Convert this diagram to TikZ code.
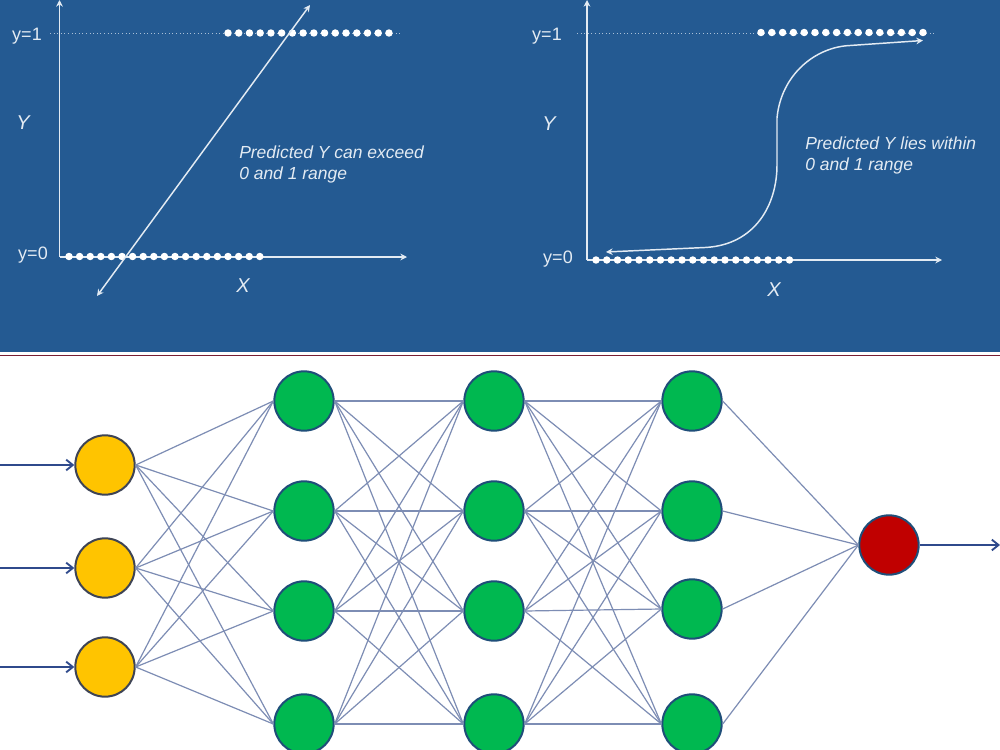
\documentclass[tikz,border=0pt]{standalone}
\usepackage{fontspec}
\setmainfont{Liberation Sans}
\usetikzlibrary{arrows.meta}
\definecolor{panel}{HTML}{245A92}
\definecolor{chalk}{HTML}{E3EBF3}
\definecolor{edgeblue}{HTML}{7D8DB4}
\definecolor{inblue}{HTML}{2F4A8C}
\definecolor{ringdark}{HTML}{1F4E79}
\definecolor{ringgrey}{HTML}{3E4455}
\definecolor{inyellow}{HTML}{FFC400}
\definecolor{hidgreen}{HTML}{00B850}
\definecolor{outred}{HTML}{C00000}
\definecolor{rulered}{HTML}{781E32}
\tikzset{
  axisline/.style={draw=chalk,line width=1.1pt,-{Stealth[length=5pt,width=5pt]}},
  guide/.style={draw=chalk!70!panel,line width=0.7pt,dotted},
  fitline/.style={draw=chalk,line width=1.1pt,{Stealth[length=5pt,width=5pt]}-{Stealth[length=5pt,width=5pt]}},
  pt/.style={circle,fill=white,minimum size=5.6pt,inner sep=0pt},
  lab/.style={text=chalk,font=\fontsize{13.5}{16}\selectfont,inner sep=0pt},
  axlab/.style={text=chalk,font=\itshape\fontsize{15}{18}\selectfont,inner sep=0pt},
  note/.style={text=chalk,font=\itshape\fontsize{13.1}{15.8}\selectfont,align=left,anchor=west,inner sep=0pt},
  neuron/.style={circle,minimum size=44.5pt,inner sep=0pt,line width=1.5pt},
  inn/.style={neuron,fill=inyellow,draw=ringgrey},
  hid/.style={neuron,fill=hidgreen,draw=ringdark},
  outn/.style={neuron,fill=outred,draw=ringdark},
  link/.style={draw=edgeblue,line width=0.9pt},
  flow/.style={draw=inblue,line width=1.4pt,-{Straight Barb[length=5pt,width=8pt]}}
}
\begin{document}
\begin{tikzpicture}[x=0.75pt,y=-0.75pt]
\useasboundingbox (0,0) rectangle (1000,750);
\fill[panel] (0,0) rectangle (1000,352);
\fill[white] (0,352) rectangle (1000,750);
\fill[rulered] (0,354.5) rectangle (1000,356);

% left chart
\coordinate (lO) at (59.5,257);
\coordinate (lYt) at (59.5,0);
\coordinate (lXr) at (407,257);
\coordinate (lg1) at (50,33);
\coordinate (lg2) at (402,33);
\coordinate (lf1) at (97,296);
\coordinate (lf2) at (310,5);
\draw[guide] (lg1) -- (lg2);
\draw[axisline] (lO) -- (lYt);
\draw[axisline] (lO) -- (lXr);
\foreach \i in {0,...,15} \node[pt] (lt\i) at ({228+\i*10.73},33) {};
\foreach \i in {0,...,18} \node[pt] (lb\i) at ({69+\i*10.6},256.5) {};
\draw[fitline] (lf1) -- (lf2);
\node[lab] (ly1) at (27,36) {y=1};
\node[lab] (ly0) at (33,255.5) {y=0};
\node[axlab] (lY) at (23,123) {Y};
\node[axlab] (lX) at (243,286) {X};
\node[note] (ln) at (239,164.5) {Predicted Y can exceed\\0 and 1 range};

% right chart
\coordinate (rO) at (587,260);
\coordinate (rYt) at (587,0);
\coordinate (rXr) at (942,260);
\coordinate (rg1) at (577,33);
\coordinate (rg2) at (936,33);
\coordinate (rc1) at (606,252);
\coordinate (rc2) at (923,40.5);
\draw[guide] (rg1) -- (rg2);
\draw[axisline] (rO) -- (rYt);
\draw[axisline] (rO) -- (rXr);
\foreach \i in {0,...,15} \node[pt] (rt\i) at ({761+\i*10.8},32.5) {};
\foreach \i in {0,...,18} \node[pt] (rb\i) at ({596+\i*10.75},260) {};
\draw[fitline] (rc1) -- (705,247.5)
  .. controls (755,245) and (777,205) .. (777,165)
  -- (777,118)
  .. controls (781,75) and (815,47) .. (850,45.5)
  -- (rc2);
\node[lab] (ry1) at (547,36) {y=1};
\node[lab] (ry0) at (558,259.5) {y=0};
\node[axlab] (rY) at (549,124) {Y};
\node[axlab] (rX) at (774,290) {X};
\node[note] (rn) at (805,155.5) {Predicted Y lies within\\0 and 1 range};

% network
\node[inn] (i1) at (105,465) {};
\node[inn] (i2) at (105,568) {};
\node[inn] (i3) at (105,667) {};
\node[hid] (a1) at (304,401) {};
\node[hid] (a2) at (304,511) {};
\node[hid] (a3) at (304,611) {};
\node[hid] (a4) at (304,724) {};
\node[hid] (b1) at (494,401) {};
\node[hid] (b2) at (494,511) {};
\node[hid] (b3) at (494,611) {};
\node[hid] (b4) at (494,724) {};
\node[hid] (c1) at (692,401) {};
\node[hid] (c2) at (692,511) {};
\node[hid] (c3) at (692,609) {};
\node[hid] (c4) at (692,724) {};
\node[outn] (o) at (889,545) {};
\foreach \s in {1,2,3} \foreach \t in {1,2,3,4} \draw[link] (i\s.east) -- (a\t.west);
\foreach \s in {1,2,3,4} \foreach \t in {1,2,3,4} {
  \draw[link] (a\s.east) -- (b\t.west);
  \draw[link] (b\s.east) -- (c\t.west);
}
\foreach \s in {1,2,3,4} \draw[link] (c\s.east) -- (o.west);
\coordinate (f1) at (0,465);
\coordinate (f2) at (0,568);
\coordinate (f3) at (0,667);
\coordinate (f4) at (1000,545);
\draw[flow] (f1) -- (i1.west);
\draw[flow] (f2) -- (i2.west);
\draw[flow] (f3) -- (i3.west);
\draw[flow] (o.east) -- (f4);
\end{tikzpicture}
\end{document}
